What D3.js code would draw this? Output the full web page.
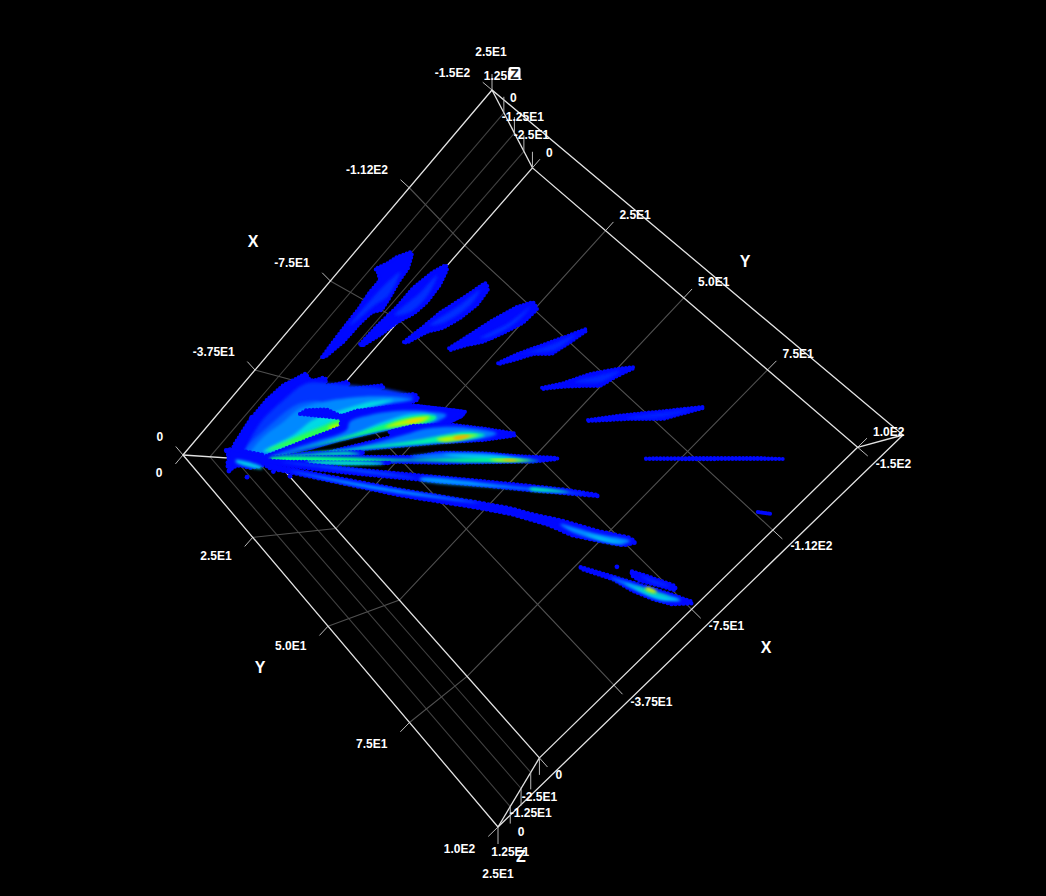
<!DOCTYPE html>
<html><head><meta charset="utf-8"><title>3D scan volume</title>
<script src="https://cdnjs.cloudflare.com/ajax/libs/d3/7.8.5/d3.min.js"></script>
<style>html,body{margin:0;background:#000}svg{display:block}text{font-family:"Liberation Sans",Arial,sans-serif;fill:#fff}</style>
</head><body>
<svg id="chart" width="1046" height="896"></svg>
<script>
// Axis ranges and labelled ticks
const xTicks = [0, -37.5, -75, -112.5, -150];
const yTicks = [0, 25, 50, 75, 100];
const zTicks = [25, 12.5, 0, -12.5, -25];
const xTickLabels = ["0", "-3.75E1", "-7.5E1", "-1.12E2", "-1.5E2"];
const yTickLabels = ["0", "2.5E1", "5.0E1", "7.5E1", "1.0E2"];
const zTickLabels = ["2.5E1", "1.25E1", "0", "-1.25E1", "-2.5E1"];

// Return-strength contours in the Z = 0 plane, as [X, Y] pairs.
// Outer beams, far range
const beam1Outer = [[-49.6,0.1],[-56.2,-0.3],[-66.0,-0.7],[-71.8,-0.9],[-78.0,-1.5],[-83.4,-1.5],[-84.9,-3.3],[-85.0,-4.3],[-89.6,-2.8],[-93.2,-2.1],[-97.8,-0.2],[-97.3,0.5],[-93.1,1.9],[-87.0,2.4],[-81.7,3.2],[-76.5,3.8],[-73.5,2.3],[-67.8,1.8],[-58.8,1.7],[-50.4,0.7]];
const beam1Core = [[-64.8,0.2],[-81.0,0.1],[-86.8,0.5],[-90.2,1.0],[-81.4,2.7],[-76.0,1.7],[-66.8,0.6]];
const beam2Outer = [[-62.6,5.3],[-70.3,5.5],[-80.9,6.2],[-89.4,6.1],[-98.0,7.2],[-102.8,8.5],[-101.8,9.5],[-96.5,10.6],[-89.3,11.0],[-83.7,10.5],[-77.4,8.8],[-69.8,7.6],[-62.6,6.0]];
const beam2Core = [[-78.4,7.1],[-89.8,8.2],[-98.2,8.5],[-91.2,10.0],[-82.8,9.5]];
const beam3Outer = [[-74.0,13.2],[-82.2,14.3],[-89.7,15.1],[-98.6,16.9],[-107.3,18.5],[-107.2,19.2],[-106.2,20.1],[-100.2,20.5],[-93.1,19.6],[-86.7,18.1],[-82.0,15.8],[-74.5,13.9]];
const beam3Core = [[-84.4,15.3],[-96.3,17.5],[-104.4,18.7],[-98.6,19.3],[-88.7,17.5]];
const beam4Outer = [[-83.3,22.4],[-91.4,24.0],[-100.2,25.7],[-108.6,27.8],[-113.3,29.8],[-113.1,30.6],[-112.5,31.6],[-106.2,31.3],[-99.4,29.5],[-92.7,27.4],[-88.3,25.1],[-83.1,22.9]];
const beam4Core = [[-92.9,26.3],[-103.5,29.0],[-111.5,30.1],[-104.4,30.0],[-95.5,27.8]];
const beam5Outer = [[-91.1,33.3],[-97.5,35.1],[-104.5,37.7],[-112.7,40.7],[-118.4,42.7],[-117.9,43.0],[-112.0,42.1],[-105.3,40.9],[-101.1,37.8],[-96.4,35.9],[-91.1,33.6]];
const beam5Core = [[-98.0,35.7],[-106.9,39.2],[-114.6,41.8],[-106.9,40.8],[-100.7,37.1]];
const beam6Outer = [[-95.2,44.4],[-100.9,47.1],[-108.8,50.0],[-115.7,53.5],[-119.7,55.9],[-119.4,56.0],[-113.4,54.4],[-108.2,53.4],[-104.6,50.7],[-99.4,47.2],[-94.9,44.6]];
const beam6Core = [[-103.8,48.8],[-110.7,51.8],[-115.9,54.3],[-109.1,52.8]];
const beam7Outer = [[-97.9,56.5],[-106.5,61.2],[-115.7,66.6],[-124.7,71.8],[-124.7,72.1],[-117.7,69.2],[-113.9,67.7],[-107.1,62.8],[-97.7,56.7]];
const beam7Core = [[-106.3,61.9],[-115.9,67.0],[-121.4,70.4],[-114.8,67.7]];
const beam8Outer = [[-101.6,70.8],[-112.8,78.5],[-124.7,86.8],[-128.9,90.0],[-124.5,86.9],[-112.6,78.7],[-101.5,70.9]];
const fragment = [[-112.7,93.8],[-113.9,94.9],[-114.9,95.8]];

// Near-range fan
const fanEnvelope = [[1.0,-1.3],[-4.0,-2.5],[-14.2,-3.5],[-23.9,-3.6],[-32.3,-2.8],[-37.6,-1.3],[-41.2,-0.4],[-40.7,1.4],[-41.4,2.4],[-44.9,3.8],[-45.3,4.8],[-42.7,5.2],[-46.7,7.5],[-50.1,9.1],[-49.8,9.8],[-47.0,9.7],[-52.8,13.1],[-58.2,16.3],[-57.8,16.8],[-53.0,15.3],[-59.2,20.6],[-64.1,23.6],[-63.7,25.1],[-59.4,23.9],[-67.4,31.0],[-71.9,35.2],[-70.1,35.3],[-66.0,34.2],[-62.4,32.1],[-50.3,24.9],[-33.4,17.1],[-23.8,13.1],[-8.8,5.5],[1.4,-0.7]];
const fanShoulder = [[-5.3,1.3],[-16.2,-0.9],[-28.5,-0.2],[-39.0,1.5],[-45.1,6.1],[-49.9,10.2],[-57.6,17.0],[-63.2,23.7],[-56.4,20.1],[-41.5,11.0],[-30.1,5.0],[-25.8,5.4],[-15.7,4.6],[-6.4,3.2]];
const fanWedge = [[-5,0.9],[-20,1.5],[-32,3.5],[-38,7.5],[-20,6],[-6,2.5]];
const lobeA1 = [[-5.8,2.3],[-13.8,2.1],[-23.1,3.5],[-31.0,4.5],[-38.9,7.9],[-50.5,14.6],[-60.4,22.1],[-62.4,24.2],[-53.5,19.7],[-44.2,15.2],[-40.3,14.3],[-37.4,15.6],[-25.8,11.7],[-13.8,7.3],[-5.0,2.9]];
const lobeA2 = [[-10.0,4.6],[-22.5,7.7],[-31.7,9.0],[-39.9,12.1],[-51.0,16.7],[-57.3,20.7],[-48.5,17.1],[-40.1,13.7],[-37.7,15.4],[-26.0,11.6],[-12.8,6.6]];
const lobeA3 = [[-11.2,5.1],[-23.0,8.6],[-32.8,11.9],[-38.9,14.0],[-37.8,15.7],[-27.1,12.1],[-16.7,7.8]];
const lobeA4 = [[-33.8,13.1],[-37.9,14.6],[-37.7,15.4],[-33.5,14.0]];
const lobeB0 = [[-29.5,5.4],[-32.3,6.0],[-37.8,9.8],[-40.1,13.7],[-45.4,15.7],[-54.8,21.2],[-61.6,25.8],[-67.4,31.0],[-71.9,35.2],[-70.1,35.3],[-66.0,34.2],[-62.4,32.1],[-50.3,24.9],[-33.4,17.1],[-23.8,13.1],[-9.2,5.8],[-24.9,11.1],[-36.9,15.3],[-39.6,14.1]];
const lobeB1 = [[-10.7,6.8],[-25.0,12.3],[-38.0,17.0],[-40.9,16.2],[-47.7,18.8],[-57.2,24.2],[-63.5,29.1],[-66.8,32.5],[-62.8,31.9],[-53.3,26.8],[-39.0,19.9],[-24.0,13.0]];
const lobeB2 = [[-12.7,8.0],[-28.6,14.8],[-40.0,19.3],[-49.5,22.4],[-58.0,25.9],[-63.5,30.2],[-63.5,31.3],[-57.3,28.7],[-47.6,23.6],[-32.9,16.8]];
const lobeB3 = [[-13.8,8.5],[-28.6,14.8],[-42.0,20.3],[-52.0,24.2],[-59.2,27.4],[-63.9,31.1],[-61.1,30.7],[-53.5,26.7],[-42.3,21.3],[-28.3,15.0]];
const lobeB4 = [[-48.6,23.6],[-54.9,25.7],[-62.3,29.9],[-59.5,29.5],[-53.7,26.6]];
const lobeB5 = [[-55.4,26.6],[-60.3,29.0],[-58.9,28.8],[-55.4,27.1]];
const lobeC0 = [[-9.1,6.6],[-26.0,16.6],[-31.5,18.9],[-48.1,26.4],[-48.6,25.1],[-56.0,28.4],[-65.3,34.6],[-72.3,40.9],[-78.5,46.9],[-77.8,47.1],[-69.6,42.7],[-57.8,35.2],[-37.7,23.2],[-11.3,7.7]];
const lobeC1 = [[-51.3,28.1],[-58.7,31.2],[-68.6,37.9],[-74.3,43.9],[-70.0,42.4],[-59.4,36.3],[-43.2,26.6],[-10.3,7.0],[-34.4,20.6]];
const lobeC2 = [[-11.4,7.6],[-36.2,21.8],[-53.5,31.3],[-61.2,35.1],[-67.6,38.6],[-71.2,42.2],[-66.6,40.3],[-57.8,35.2],[-37.7,23.2],[-11.1,7.8]];
const lobeC3 = [[-58.6,34.6],[-65.2,38.0],[-69.6,41.1],[-66.0,39.6],[-59.6,36.2]];
const lobeC4 = [[-63.1,37.2],[-67.6,39.7],[-66.3,39.5],[-63.0,37.8]];
const lobeD0 = [[-9.4,6.4],[-22.6,13.9],[-36.9,23.5],[-36.5,24.0],[-21.7,14.5],[-9.1,6.6]];
const lobeD1 = [[-12.5,8.1],[-23.4,14.6],[-33.5,21.2],[-35.7,23.4],[-22.0,14.4]];
const lobeE0 = [[-8.6,5.6],[-49.5,33.9],[-56.2,37.3],[-66.5,44.7],[-73.7,50.6],[-82.5,57.3],[-82.2,57.5],[-76.2,54.1],[-54.6,39.5],[-8.1,6.0]];
const lobeE1 = [[-47.8,32.7],[-57.0,37.9],[-66.5,44.7],[-73.4,50.8],[-76.7,53.7],[-56.8,40.3]];
const lobeE2 = [[-56.5,38.2],[-67.7,46.1],[-74.4,52.1],[-64.9,45.7]];
const lobeE3 = [[-10.3,7.0],[-48.9,34.3],[-69.2,48.2],[-77.9,55.0],[-64.3,46.1],[-48.4,34.6],[-9.8,7.4]];
const lobeE4 = [[-66.7,46.7],[-72.9,51.1],[-75.7,53.4],[-67.8,48.1]];
const lobeE5 = [[-69.7,49.0],[-72.7,51.2],[-72.6,51.3],[-69.5,49.1]];
const lobeF0 = [[-7.6,6.3],[-41.3,30.2],[-41.2,30.3],[-7.1,6.6]];
const lobeF1 = [[-19.5,14.8],[-39.5,29.0],[-39.4,29.2],[-19.2,14.9]];
const apexOuter = [[0.3,-3.1],[-1.7,-2.1],[-9.1,5.1],[-6.6,6.9],[-2.2,4.8],[0.0,2.3],[2.5,1.2],[4.4,1.3],[3.7,-0.3],[1.1,-1.3]];
const apexCore = [[-0.1,0.6],[-5.8,7.0],[-5.3,7.3],[0.4,1.0]];

// Long narrow rays below the fan
const ray1Outer = [[-7.6,5.8],[-31.8,26.0],[-59.2,48.4],[-69.8,57.2],[-76.9,63.2],[-83.1,69.0],[-82.9,69.1],[-76.2,63.7],[-68.9,57.8],[-58.3,49.0],[-30.8,26.6],[-6.8,6.3]];
const ray1Early = [[-12,9.5],[-31.8,26.0],[-45,37.9],[-31.5,26.4]];
const ray1Mid = [[-45.3,37.9],[-67.3,55.8],[-80.5,66.9],[-66.8,56.1],[-44.8,38.2]];
const ray1Core = [[-69.4,57.5],[-77.6,64.3],[-68.9,57.8]];
const ray2Outer = [[-7.7,7.6],[-37.3,36.3],[-54.1,51.8],[-60.6,58.0],[-63.4,61.4],[-69.4,67.5],[-74.8,74.0],[-80.5,79.8],[-80.7,81.1],[-77.5,79.8],[-72.8,75.3],[-68.5,71.0],[-65.1,65.5],[-59.4,58.7],[-53.0,52.5],[-36.2,37.1],[-7.2,8.0]];
const ray2Mid = [[-68.1,67.5],[-74.2,74.4],[-79.9,80.2],[-77.0,79.2],[-71.7,74.0],[-68.8,70.0]];
const ray2Core = [[-71.5,72.7],[-75.7,77.2],[-78.1,79.9],[-73.5,75.7]];
const ray2Streak = [[-12.7,13.1],[-32.9,32.3],[-54.1,51.8],[-32.2,32.8]];

// Isolated patch at the far lower range
const patchOuter = [[-63.1,76.8],[-68.3,82.9],[-70.9,86.0],[-73.4,89.0],[-76.4,92.6],[-80.0,97.2],[-79.6,97.4],[-75.1,94.8],[-72.2,91.6],[-69.6,87.7],[-67.8,83.3],[-62.8,77.0]];
const patchMid = [[-67.5,82.5],[-72.2,87.9],[-77.8,95.4],[-74.3,92.8],[-70.9,88.8]];
const patchCyan = [[-69.5,85.4],[-73.9,91.0],[-77.8,95.4],[-73.5,92.7],[-70.9,88.8]];
const patchGreen = [[-71.1,87.3],[-73.9,91.0],[-76.3,93.6],[-73.1,90.7]];
const patchHot = [[-73.5,89.1],[-74.6,91.1],[-73.9,91.0],[-72.6,89.1]];
const sidePatchOuter = [[-73.6,84.8],[-75.8,87.5],[-79.8,92.8],[-78.9,93.4],[-76.6,90.7],[-73.3,87.2],[-72.7,85.2]];
const sidePatchCore = [[-74.6,86.4],[-76.4,89.0],[-78.7,92.1],[-75.7,89.4]];
const strayReturns = [[-15.3,-3.6],[-0.3,-2.6],[4.7,1.1],[1.0,5.8],[-11.4,14.0],[-7.9,10.0],[-71.3,82.0]];

// Draw order, back to front: contour, return strength (0 to 1), rim dot size (0 = soft inner band)
const contours = [
  [beam1Outer,0,4],[beam1Core,.12,0],[beam2Outer,0,4],[beam2Core,.12,0],[beam3Outer,0,4],[beam3Core,.12,0],
  [beam4Outer,0,4],[beam4Core,.12,0],[beam5Outer,0,4],[beam5Core,.1,0],[beam6Outer,0,4],[beam6Core,.1,0],
  [beam7Outer,0,4],[beam7Core,.08,0],[beam8Outer,0,4],[fragment,0,4],
  [fanEnvelope,0,4],[fanShoulder,.14,0],[fanWedge,.24,0],
  [lobeA1,.34,0],[lobeA2,.52,0],[lobeA3,.68,0],[lobeA4,.78,0],
  [lobeB0,0,4],[lobeB1,.3,0],[lobeB2,.5,0],[lobeB3,.66,0],[lobeB4,.8,0],[lobeB5,.88,0],
  [lobeC0,0,4],[lobeC1,.3,0],[lobeC2,.6,0],[lobeC3,.8,0],[lobeC4,.92,0],
  [lobeD0,0,4],[lobeD1,.6,0],
  [lobeE0,0,4],[lobeE1,.3,0],[lobeE2,.48,0],[lobeE3,.64,0],[lobeE4,.8,0],[lobeE5,.92,0],
  [lobeF0,0,4],[lobeF1,.58,0],
  [apexOuter,0,4.5],[apexCore,.5,0],
  [ray1Outer,0,4.6],[ray1Early,.28,0],[ray1Mid,.38,0],[ray1Core,.6,0],
  [ray2Outer,0,5],[ray2Streak,.42,0],[ray2Mid,.35,0],[ray2Core,.5,0],
  [sidePatchOuter,0,4.4],[sidePatchCore,.12,0],
  [patchOuter,0,4.4],[patchMid,.3,0],[patchCyan,.48,0],[patchGreen,.66,0],[patchHot,.82,0]
];

// Camera: four near-plane corners plus the vanishing point of the Z direction
const nearLeft = [183,455], nearTop = [492,90], nearBottom = [498,827], nearRight = [903,435];
const vanish = [700,490], depth = 0.22;
const dx1 = nearTop[0]-nearRight[0], dy1 = nearTop[1]-nearRight[1];
const dx2 = nearBottom[0]-nearRight[0], dy2 = nearBottom[1]-nearRight[1];
const sx = nearLeft[0]-nearTop[0]-nearBottom[0]+nearRight[0], sy = nearLeft[1]-nearTop[1]-nearBottom[1]+nearRight[1];
const det = dx1*dy2-dx2*dy1, g = (sx*dy2-dx2*sy)/det, h = (dx1*sy-sx*dy1)/det;
const a1 = nearTop[0]-nearLeft[0]+g*nearTop[0], a2 = nearBottom[0]-nearLeft[0]+h*nearBottom[0];
const b1 = nearTop[1]-nearLeft[1]+g*nearTop[1], b2 = nearBottom[1]-nearLeft[1]+h*nearBottom[1];

function toScreen(u,v,w){
  const d = 1+g*u+h*v+depth*w;
  return [(a1*u+a2*v+nearLeft[0]+depth*w*vanish[0])/d, (b1*u+b2*v+nearLeft[1]+depth*w*vanish[1])/d];
}
const xScale = d3.scaleLinear().domain([0,-150]).range([0,1]);
const yScale = d3.scaleLinear().domain([0,100]).range([0,1]);
const zScale = d3.scaleLinear().domain([25,-25]).range([0,1]);
const project = (X,Y,Z) => toScreen(xScale(X),yScale(Y),zScale(Z));

const strength = d3.scaleLinear()
  .domain([0,.15,.3,.45,.55,.65,.75,.85,1])
  .range(["#0008ff","#0038ff","#0078ff","#00b8ff","#00e8d8","#00ff78","#80ff00","#f0f000","#ff5000"]);

const svg = d3.select("#chart");
const defs = svg.append("defs");
defs.append("filter").attr("id","soft").attr("x","-20%").attr("y","-20%").attr("width","140%").attr("height","140%")
  .append("feGaussianBlur").attr("stdDeviation",1.6);

const straight = d3.line();
const segment = (pts,stroke,width) => svg.append("path").attr("d",straight(pts)).attr("fill","none").attr("stroke",stroke).attr("stroke-width",width||1);
const tickSpan = 0.027, FRAME = "#e2e2e2", STUB = "#b8b8b8", GRID = "#505050", WALL = "#404040";

// Walls: depth lines between the near and far planes
zTicks.slice(1,-1).forEach(z => {
  const w = zScale(z);
  segment([toScreen(1,0,w),toScreen(0,0,w),toScreen(0,1,w)],WALL,1.1);
});

// Tick stubs, wall rungs and floor grid
xTicks.forEach(x => {
  const u = xScale(x);
  if (x!==0 && x!==-150) { segment([toScreen(u,0,0),toScreen(u,0,1),toScreen(u,1,1)],GRID,1.1); }
  segment([toScreen(u,-tickSpan,0),toScreen(u,0,0)],STUB);
  segment([toScreen(u,1,1),toScreen(u,1+tickSpan,1)],STUB);
});
yTicks.forEach(y => {
  const v = yScale(y);
  if (y!==0 && y!==100) { segment([toScreen(0,v,0),toScreen(0,v,1),toScreen(1,v,1)],GRID,1.1); }
  segment([toScreen(-tickSpan,v,0),toScreen(0,v,0)],STUB);
  segment([toScreen(1,v,1),toScreen(1+tickSpan,v,1)],STUB);
});

// Box edges
[0,1].forEach(w => segment([toScreen(0,0,w),toScreen(1,0,w),toScreen(1,1,w),toScreen(0,1,w),toScreen(0,0,w)],FRAME,1.3));
[[0,0],[1,0],[0,1],[1,1]].forEach(([u,v]) => segment([toScreen(u,v,0),toScreen(u,v,1)],FRAME,1.3));

// Z ticks rise from the top corner and hang from the bottom corner
const topGap = d3.scaleLinear().domain([0,1]).range([39,34]);
const bottomGap = d3.scaleLinear().domain([0,1]).range([47,39]);
zTicks.forEach((z,i) => {
  const w = zScale(z), a = toScreen(1,0,w), b = toScreen(0,1,w);
  segment([a,[a[0],a[1]-16]],STUB);
  segment([b,[b[0],b[1]+17]],STUB);
});

// Contours
const ring = d3.line().curve(d3.curveCatmullRomClosed.alpha(.5));
svg.append("g").selectAll("path").data(contours).join("path")
  .attr("d", d => (d[2] ? straight(d[0].map(p=>project(p[0],p[1],0)))+"Z" : ring(d[0].map(p=>project(p[0],p[1],0)))))
  .attr("fill", d => strength(d[1]))
  .attr("stroke", d => d[2] ? strength(d[1]) : "none")
  .attr("stroke-width", d => d[2])
  .attr("stroke-linecap","round")
  .attr("stroke-dasharray", d => d[2] ? `0 ${d[2]*.9}` : null)
  .attr("filter", d => d[2] ? null : "url(#soft)");

svg.append("g").selectAll("circle").data(strayReturns).join("circle")
  .attr("cx", d => project(d[0],d[1],0)[0]).attr("cy", d => project(d[0],d[1],0)[1])
  .attr("r",2.4).attr("fill",strength(0));

// Tick labels
const label = (txt,px,py,anchor,size,weight) => svg.append("text").text(txt).attr("x",px).attr("y",py)
  .attr("text-anchor",anchor).attr("dominant-baseline","central")
  .attr("font-size",size||12).attr("font-weight",weight||"bold");
xTicks.forEach((x,i) => {
  const u = xScale(x), a = toScreen(u,-tickSpan,0), b = toScreen(u,1+tickSpan,1);
  label(xTickLabels[i],a[0]-12.5,a[1]-9.5,"end");
  label(xTickLabels[i],b[0]+8,b[1]+7.5,"start");
});
yTicks.forEach((y,i) => {
  const v = yScale(y), a = toScreen(-tickSpan,v,0), b = toScreen(1+tickSpan,v,1);
  label(yTickLabels[i],a[0]-13,a[1]+9+4*v,"end");
  label(yTickLabels[i],b[0]+6,b[1]-6.5,"start");
});
zTicks.forEach((z,i) => {
  const w = zScale(z), a = toScreen(1,0,w), b = toScreen(0,1,w);
  label(zTickLabels[i],a[0]-1,a[1]-topGap(w)+1,"middle");
  label(zTickLabels[i],b[0],b[1]+bottomGap(w),"middle");
});

// Axis titles
label("X",253,241,"middle",16);
label("Y",745,261,"middle",16);
label("X",766,647,"middle",16);
label("Y",260,667,"middle",16);
label("Z",521,856,"middle",16);
svg.append("rect").attr("x",508.5).attr("y",67).attr("width",12).attr("height",13).attr("rx",2).attr("fill","#fff");
label("Z",514.5,73.5,"middle",14).style("fill","#222");
</script>
</body></html>
